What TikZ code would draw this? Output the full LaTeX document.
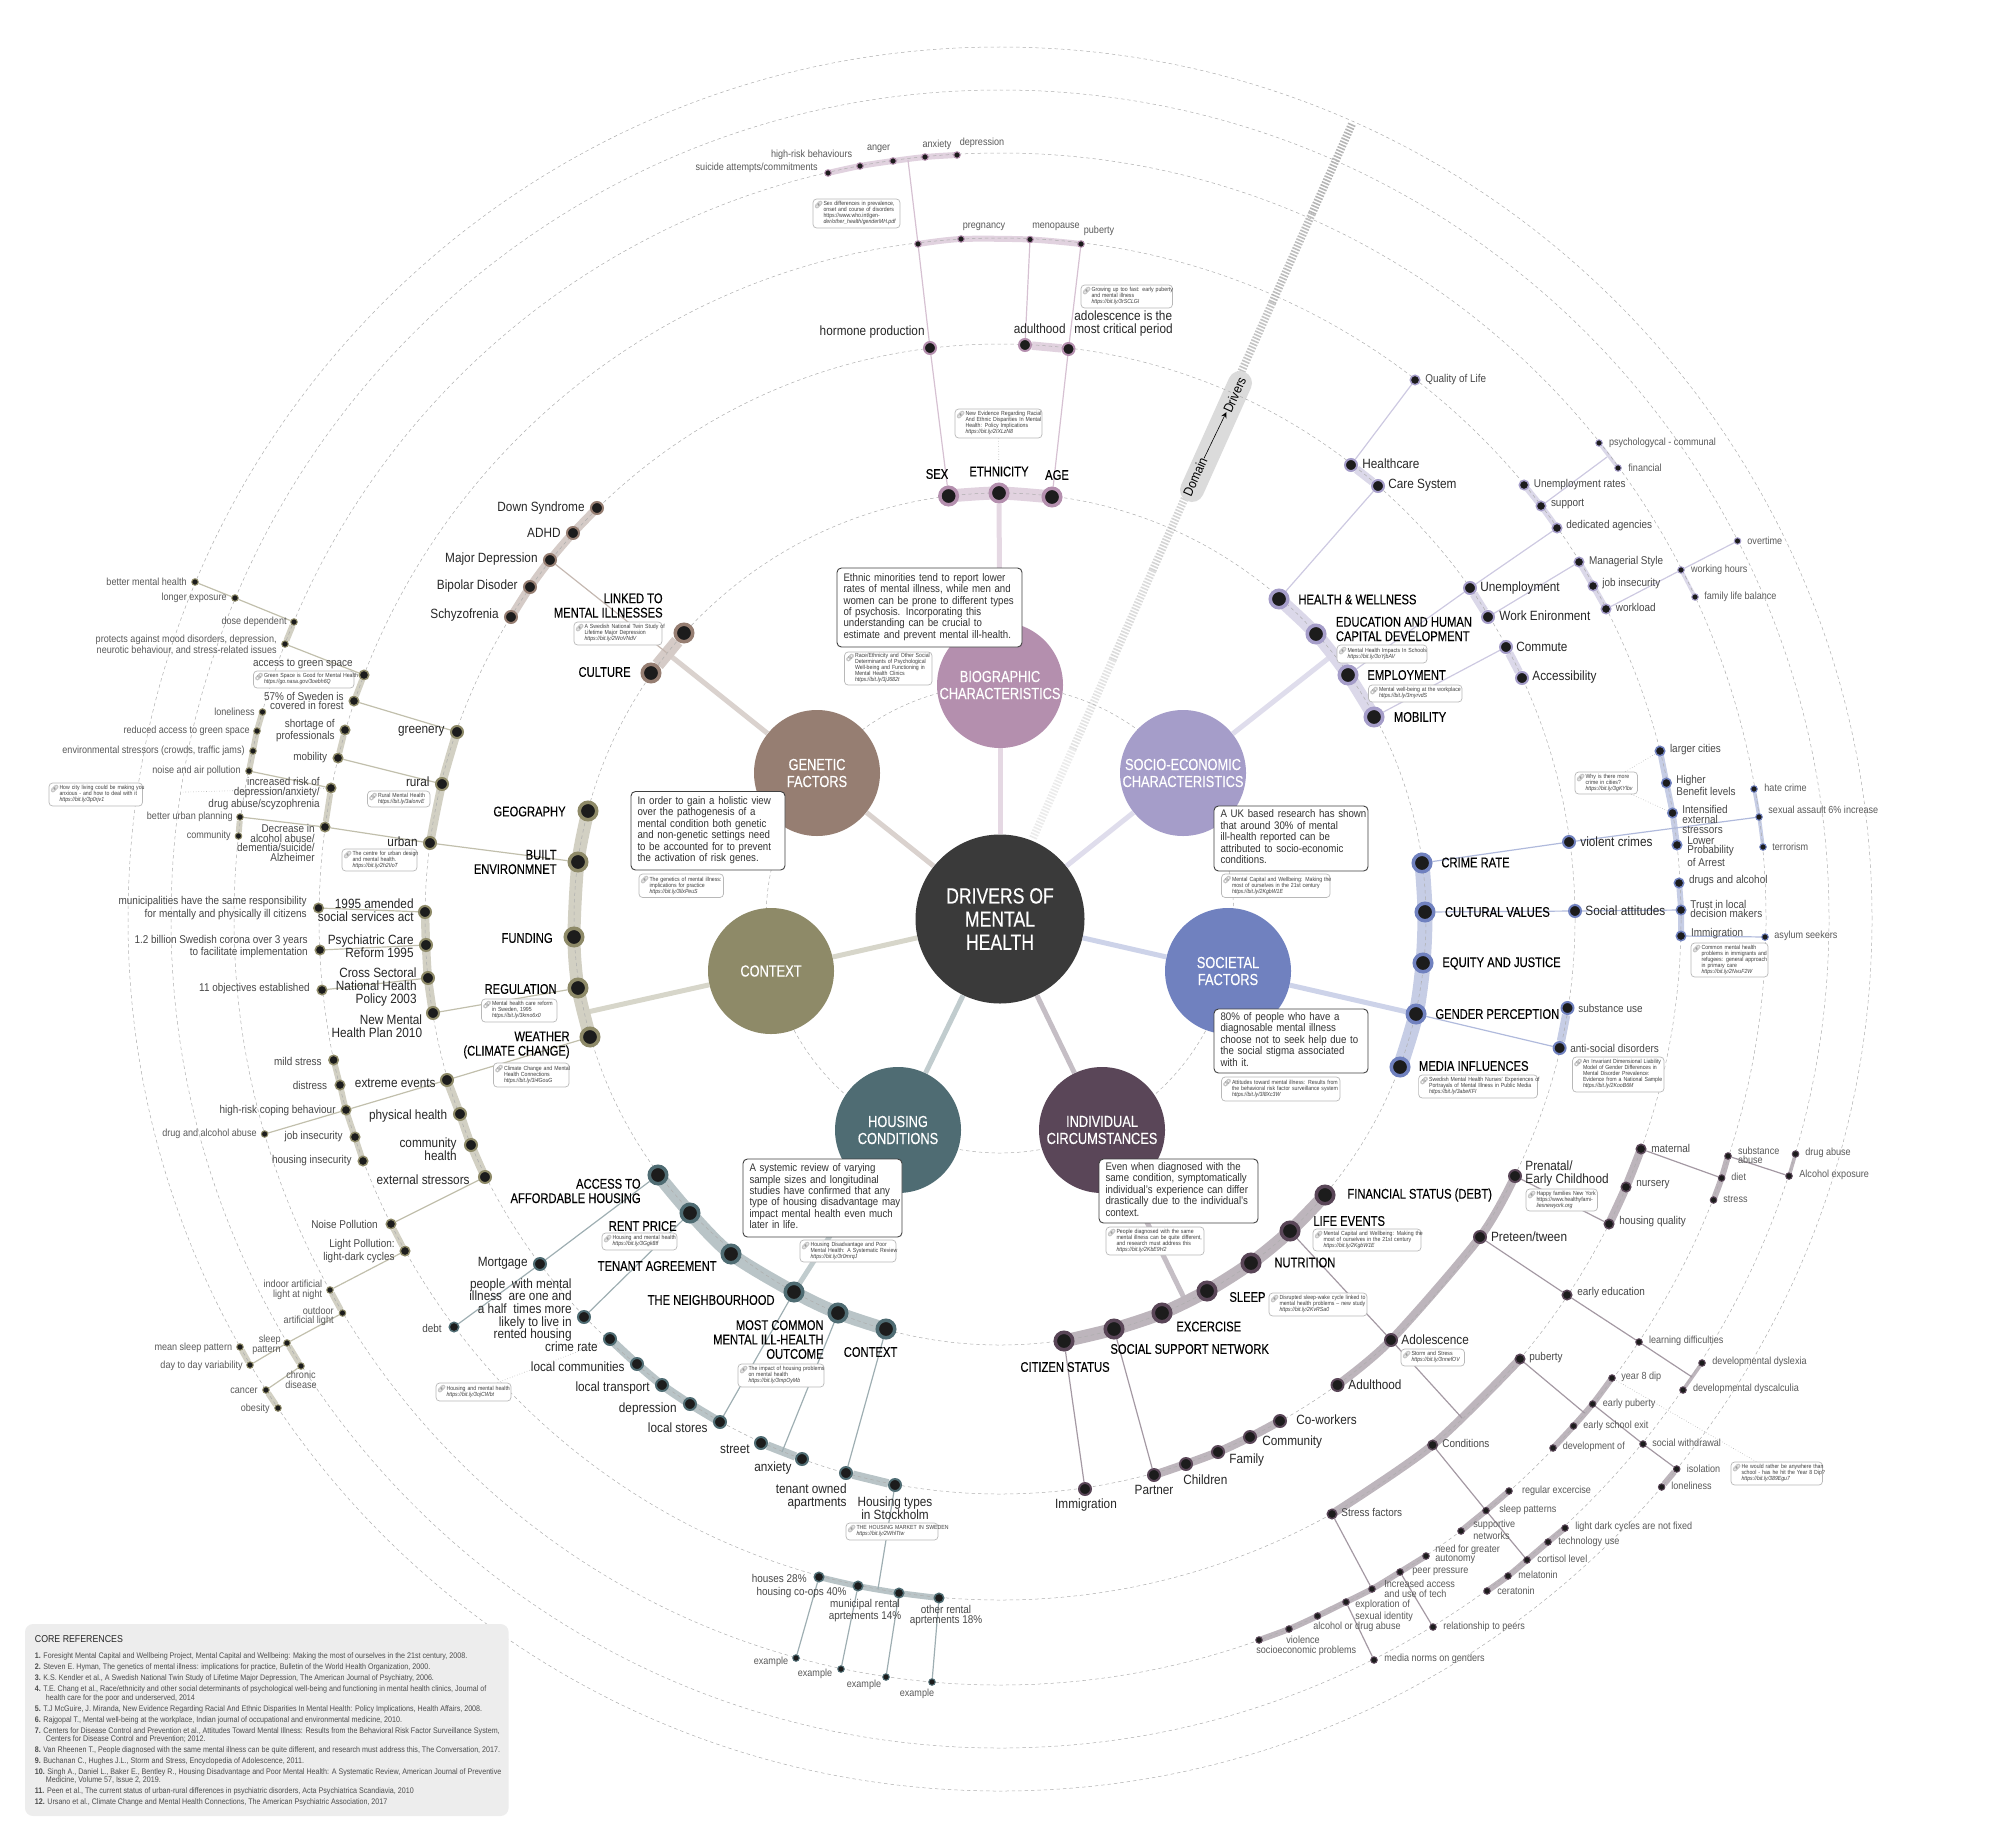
\documentclass[tikz,border=0pt]{standalone}
\usepackage{fontspec}
\usetikzlibrary{calc}
\setmainfont[FakeStretch=0.88]{Liberation Sans}
\newfontfamily\capsfont[FakeStretch=0.8,FakeBold=0.25]{Liberation Sans}
\newfontfamily\emojifont{Noto Emoji}
\pgfdeclarelayer{background}
\pgfsetlayers{background,main}

\definecolor{ink}{HTML}{1C1C1C}
\definecolor{chub}{HTML}{3A3A3A}
\definecolor{cbio}{HTML}{B48FAE}
\definecolor{cgen}{HTML}{967E72}
\definecolor{csoc}{HTML}{A59DC9}
\definecolor{ccon}{HTML}{8E8A68}
\definecolor{cfac}{HTML}{7081BF}
\definecolor{chou}{HTML}{4F6C73}
\definecolor{cind}{HTML}{5A4658}

\tikzset{
  dota/.style={circle,inner sep=0pt,minimum size=8.75pt,fill=ink,draw=#1,line width=1.75pt},
  dotb/.style={circle,inner sep=0pt,minimum size=6pt,fill=ink,draw=#1,line width=1pt},
  dotc/.style={circle,inner sep=0pt,minimum size=4.75pt,fill=ink,draw=#1,line width=0.75pt},
  dotd/.style={circle,inner sep=0pt,minimum size=3.25pt,fill=ink,draw=#1,line width=0.5pt},
  factor/.style={circle,inner sep=0pt,minimum size=63pt,fill=#1,text=white,align=center,
    font=\capsfont\fontsize{8}{8.5}\selectfont},
  txta/.style={inner sep=0pt,text=black,font=\capsfont\fontsize{7}{7.2}\selectfont},
  txtb/.style={inner sep=0pt,text=black!85,font=\fontsize{6.7}{6.3}\selectfont},
  txtc/.style={inner sep=0pt,text=black!72,font=\fontsize{5.65}{4.8}\selectfont},
  txtd/.style={inner sep=0pt,text=black!65,font=\fontsize{5.15}{4.8}\selectfont},
  lft/.style={anchor=east,align=right},
  rgt/.style={anchor=west,align=left},
  mid/.style={anchor=center,align=center},
  spoke/.style={line width=2.5pt,draw=#1!35},
  banda/.style={line width=6.5pt,draw=#1!40},
  bandb/.style={line width=4.2pt,draw=#1!40},
  bandc/.style={line width=3pt,draw=#1!40},
  bandd/.style={line width=1.8pt,draw=#1!40},
  conn/.style={line width=0.6pt,draw=#1!55},
  ringline/.style={draw=black!32,line width=0.25pt,dash pattern=on 1.7pt off 1.5pt},
  notelink/.style={draw=black!30,line width=0.3pt,densely dotted},
  notebox/.style={fill=white,draw=black!75,line width=0.45pt,rounded corners=2.2pt,inner sep=0pt,
    align=left,text=black!80,font=\fontsize{5.5}{5.7}\selectfont},
  refbox/.style={fill=white,draw=black!28,line width=0.35pt,rounded corners=1.8pt,inner sep=0pt,
    align=left,text=black!75,font=\fontsize{2.95}{2.85}\selectfont},
  clipicon/.style={inner sep=0pt,text=black!60,font=\emojifont\fontsize{3.6}{3.6}\selectfont},
}

% boxes are given by their corners, in pixels of the picture
\newcommand{\refnote}[7]{%
  \node[refbox,minimum width={(#4-#2)*0.5pt},minimum height={(#5-#3)*0.5pt},text width={(#4-#2-1)*0.5pt}]
    (#1) at ({(#2+#4)/2},{(#3+#5)/2})
    {\hspace*{5pt}\begin{tabular}{@{}l@{}}#6\\\itshape #7\end{tabular}};
  \node[clipicon] (#1-i) at ([xshift=3pt,yshift=-3.2pt]#1.north west) {\symbol{"1F517}};
}
\newcommand{\textnote}[6]{%
  \node[notebox,minimum width={(#4-#2)*0.5pt},minimum height={(#5-#3)*0.5pt},text width={(#4-#2-1)*0.5pt}]
    (#1) at ({(#2+#4)/2},{(#3+#5)/2})
    {\hspace*{3pt}\begin{tabular}{@{}l@{}}#6\end{tabular}};
}

\begin{document}
\begin{tikzpicture}[x=0.5pt,y=-0.5pt]
\useasboundingbox (0,0) rectangle (2000,1841);

% centre and the seven domains
\node[circle,inner sep=0pt,minimum size=84.5pt,fill=chub,text=white,align=center,
  font=\capsfont\fontsize{11}{11.6}\selectfont] (hub) at (1000,919) {DRIVERS OF\\MENTAL\\HEALTH};
\node[factor=cbio] (bio) at (1000,685) {BIOGRAPHIC\\CHARACTERISTICS};
\node[factor=cgen] (gen) at (817,773) {GENETIC\\FACTORS};
\node[factor=csoc] (soc) at (1183,773) {SOCIO-ECONOMIC\\CHARACTERISTICS};
\node[factor=ccon] (con) at (771,971) {CONTEXT};
\node[factor=cfac] (fac) at (1228,971) {SOCIETAL\\FACTORS};
\node[factor=chou] (hou) at (898,1130) {HOUSING\\CONDITIONS};
\node[factor=cind] (ind) at (1102,1130) {INDIVIDUAL\\CIRCUMSTANCES};

% join points on the bands
\coordinate (genjoin) at (667,653);
\coordinate (socjoin) at (1330,657);
\coordinate (conjoin) at (583,1013);
\coordinate (indjoin) at (1185,1300);
\coordinate (btopjoin) at (908,160);
\coordinate (hstreetjoin) at (782,1452);
\coordinate (hringjoin) at (878,1589);
\coordinate (spsyjoin) at (1607,457);
\coordinate (idysjoin) at (1692,1377);
\coordinate (icondjoin) at (1462,1418);
\coordinate (ipubjoin) at (1584.5,1413);

% biographic
\node[dota=cbio] (bsex) at (948.6,496) {}; \node[txta,mid] (bsex-t) at (937,474) {SEX};
\node[dota=cbio] (beth) at (999,493) {}; \node[txta,mid] (beth-t) at (999,471.5) {ETHNICITY};
\node[dota=cbio] (bage) at (1052,497) {}; \node[txta,mid] (bage-t) at (1057,475) {AGE};
\node[dotb=cbio] (bhor) at (930,348) {}; \node[txtb,lft] (bhor-t) at (925,332) {hormone production};
\node[dotb=cbio] (badu) at (1025,345) {}; \node[txtb,lft] (badu-t) at (1066,329) {adulthood};
\node[dotb=cbio] (bado) at (1068.5,349) {}; \node[txtb,rgt] (bado-t) at (1074,323.5) {adolescence is the\\most critical period};
\node[dotd=cbio] (bri1) at (918,244) {};
\node[dotd=cbio] (bpre) at (961,239) {}; \node[txtd,mid] (bpre-t) at (984,227) {pregnancy};
\node[dotd=cbio] (bmen) at (1030,239.5) {}; \node[txtd,mid] (bmen-t) at (1056,227) {menopause};
\node[dotd=cbio] (bpub) at (1081,244) {}; \node[txtd,mid] (bpub-t) at (1099,231) {puberty};
\node[dotd=cbio] (bsui) at (828,173) {}; \node[txtd,lft] (bsui-t) at (818,168) {suicide attempts/commitments};
\node[dotd=cbio] (brisk) at (860,166) {}; \node[txtd,lft] (brisk-t) at (852.5,155) {high-risk behaviours};
\node[dotd=cbio] (bang) at (893,161) {}; \node[txtd,mid] (bang-t) at (878.6,149) {anger};
\node[dotd=cbio] (banx) at (925,157) {}; \node[txtd,mid] (banx-t) at (937,145) {anxiety};
\node[dotd=cbio] (bdep) at (957,155) {}; \node[txtd,mid] (bdep-t) at (982,143) {depression};
\refnote{bnote1}{813}{199}{900}{228}{Sex differences in prevalence,\\onset and course of disorders\\https://www.who.int/gen-}{der/other\_health/genderMH.pdf}
\refnote{bnote2}{1081}{285}{1172.5}{308}{Growing up too fast: early puberty\\and mental illness}{https://bit.ly/3rSCLGI}
\refnote{bnote3}{955}{409}{1042}{438}{New Evidence Regarding Racial\\And Ethnic Disparities In Mental\\Health: Policy Implications}{https://bit.ly/2IXLzN8}
\textnote{bcall}{837}{568}{1022}{647}{Ethnic minorities tend to report lower\\rates of mental illness, while men and\\women can be prone to different types\\of psychosis. Incorporating this\\understanding can be crucial to\\estimate and prevent mental ill-health.}
\refnote{bnote4}{844.5}{652}{932}{685}{Race/Ethnicity and Other Social\\Determinants of Psychological\\Well-being and Functioning in\\Mental Health Clinics}{https://bit.ly/3jJ682t}

% genetic
\node[dotb=cgen] (gdow) at (597,508) {}; \node[txtb,lft] (gdow-t) at (585,508) {Down Syndrome};
\node[dotb=cgen] (gadh) at (573,533) {}; \node[txtb,lft] (gadh-t) at (561,533) {ADHD};
\node[dotb=cgen] (gmaj) at (550,560) {}; \node[txtb,lft] (gmaj-t) at (538,559) {Major Depression};
\node[dotb=cgen] (gbip) at (530,587) {}; \node[txtb,lft] (gbip-t) at (518,586) {Bipolar Disoder};
\node[dotb=cgen] (gsch) at (511,617) {}; \node[txtb,lft] (gsch-t) at (499,615) {Schyzofrenia};
\node[dota=cgen] (glin) at (684,633) {}; \node[txta,lft] (glin-t) at (663,605.5) {LINKED TO\\MENTAL ILLNESSES};
\node[dota=cgen] (gcul) at (651,673) {}; \node[txta,lft] (gcul-t) at (631,672) {CULTURE};
\refnote{gnote1}{574}{622}{662}{645}{A Swedish National Twin Study of\\Lifetime Major Depression}{https://bit.ly/2WoVNdV}
\textnote{gcall}{631}{791.5}{785}{870}{In order to gain a holistic view\\over the pathogenesis of a\\mental condition both genetic\\and non-genetic settings need\\to be accounted for to prevent\\the activation of risk genes.}
\refnote{gnote2}{639}{874}{723.5}{897.5}{The genetics of mental illness:\\implications for practice}{https://bit.ly/3llxPeuS}

% socio-economic
\node[dota=csoc] (shea) at (1279,599) {}; \node[txta,rgt] (shea-t) at (1298,599.5) {HEALTH \& WELLNESS};
\node[dota=csoc] (sedu) at (1316,634) {}; \node[txta,rgt] (sedu-t) at (1335.5,629) {EDUCATION AND HUMAN\\CAPITAL DEVELOPMENT};
\node[dota=csoc] (semp) at (1348,675) {}; \node[txta,rgt] (semp-t) at (1367,675) {EMPLOYMENT};
\node[dota=csoc] (smob) at (1374,717) {}; \node[txta,rgt] (smob-t) at (1393.5,717) {MOBILITY};
\refnote{snote1}{1337}{645}{1427}{663}{Mental Health Impacts In Schools}{https://bit.ly/3oYjbAV}
\refnote{snote2}{1368.5}{685}{1462}{702}{Mental well-being at the workplace}{https://bit.ly/3myrvdS}
\node[dotb=csoc] (scar) at (1351,465) {}; \node[txtb,rgt] (scar-t) at (1362,464) {Healthcare};
\node[dotb=csoc] (ssys) at (1378,486) {}; \node[txtb,rgt] (ssys-t) at (1388,485.5) {Care System};
\node[dotc=csoc] (squa) at (1415,380) {}; \node[txtc,rgt] (squa-t) at (1425,380) {Quality of Life};
\node[dotb=csoc] (suem) at (1470,588) {}; \node[txtb,rgt] (suem-t) at (1480,588) {Unemployment};
\node[dotb=csoc] (swrk) at (1488,617) {}; \node[txtb,rgt] (swrk-t) at (1499,616) {Work Enironment};
\node[dotb=csoc] (scom) at (1506,647) {}; \node[txtb,rgt] (scom-t) at (1516,646.5) {Commute};
\node[dotb=csoc] (sacc) at (1522,678) {}; \node[txtb,rgt] (sacc-t) at (1532,677.5) {Accessibility};
\node[dotc=csoc] (sura) at (1524,485) {}; \node[txtc,rgt] (sura-t) at (1533.5,485) {Unemployment rates};
\node[dotc=csoc] (ssup) at (1541,506) {}; \node[txtc,rgt] (ssup-t) at (1550.6,504) {support};
\node[dotc=csoc] (sded) at (1557,528) {}; \node[txtc,rgt] (sded-t) at (1566,526) {dedicated agencies};
\node[dotc=csoc] (sman) at (1579,562) {}; \node[txtc,rgt] (sman-t) at (1588.6,562) {Managerial Style};
\node[dotc=csoc] (sjob) at (1593,586) {}; \node[txtc,rgt] (sjob-t) at (1602,584) {job insecurity};
\node[dotc=csoc] (swlo) at (1606,609) {}; \node[txtc,rgt] (swlo-t) at (1615.5,607.5) {workload};
\node[dotd=csoc] (spsy) at (1599,443) {}; \node[txtd,rgt] (spsy-t) at (1608.6,443) {psychologycal - communal};
\node[dotd=csoc] (sfin) at (1618,468) {}; \node[txtd,rgt] (sfin-t) at (1628,468) {financial};
\node[dotd=csoc] (shou) at (1681,570) {}; \node[txtd,rgt] (shou-t) at (1690.6,570) {working hours};
\node[dotd=csoc] (sfam) at (1695,597) {}; \node[txtd,rgt] (sfam-t) at (1704,597) {family life balance};
\node[dotd=csoc] (sove) at (1737.5,541) {}; \node[txtd,rgt] (sove-t) at (1747,541) {overtime};
\textnote{scall}{1214}{806}{1368}{871}{A UK based research has shown\\that around 30\% of mental\\ill-health reported can be\\attributed to socio-economic\\conditions.}
\refnote{snote3}{1221.5}{874}{1330}{897.5}{Mental Capital and Wellbeing: Making the\\most of ourselves in the 21st century}{https://bit.ly/2KgbW1E}

% societal factors
\node[dota=cfac] (rcri) at (1422,863) {}; \node[txta,rgt] (rcri-t) at (1441,862.5) {CRIME RATE};
\node[dota=cfac] (rcul) at (1425,912) {}; \node[txta,rgt] (rcul-t) at (1444.6,912) {CULTURAL VALUES};
\node[dota=cfac] (requ) at (1423,963) {}; \node[txta,rgt] (requ-t) at (1442,963.5) {EQUITY AND JUSTICE};
\node[dota=cfac] (rgen) at (1416,1014) {}; \node[txta,rgt] (rgen-t) at (1435,1014) {GENDER PERCEPTION};
\node[dota=cfac] (rmed) at (1400,1067) {}; \node[txta,rgt] (rmed-t) at (1418.6,1066) {MEDIA INFLUENCES};
\refnote{rnote1}{1418.6}{1075}{1537.5}{1098}{Swedish Mental Health Nurses' Experiences of\\Portrayals of Mental Illness in Public Media}{https://bit.ly/3abeKFI}
\node[dotb=cfac] (rvio) at (1569,842) {}; \node[txtb,rgt] (rvio-t) at (1580,842) {violent crimes};
\node[dotb=cfac] (rsoc) at (1575,911) {}; \node[txtb,rgt] (rsoc-t) at (1585,910.5) {Social attitudes};
\node[dotb=cfac] (rsub) at (1567.5,1008) {}; \node[txtc,rgt] (rsub-t) at (1578,1008) {substance use};
\node[dotb=cfac] (rant) at (1559.6,1048) {}; \node[txtc,rgt] (rant-t) at (1570,1048) {anti-social disorders};
\refnote{rnote2}{1572.5}{1057}{1664}{1092}{An Invariant Dimensional Liability\\Model of Gender Differences in\\Mental Disorder Prevalence:\\Evidence from a National Sample}{https://bit.ly/2KooB6M}
\node[dotc=cfac] (rlar) at (1660,751) {}; \node[txtc,rgt] (rlar-t) at (1669.6,749.5) {larger cities};
\node[dotc=cfac] (rhig) at (1666.4,783) {}; \node[txtc,rgt] (rhig-t) at (1676,785.5) {Higher\\Benefit levels};
\node[dotc=cfac] (rint) at (1672.5,813) {}; \node[txtc,rgt] (rint-t) at (1682,819.5) {Intensified\\external\\stressors};
\node[dotc=cfac] (rlow) at (1677,845) {}; \node[txtc,rgt] (rlow-t) at (1687,851.5) {Lower\\Probability\\of Arrest};
\node[dotc=cfac] (rdru) at (1679,883) {}; \node[txtc,rgt] (rdru-t) at (1688.6,881) {drugs and alcohol};
\node[dotc=cfac] (rtru) at (1681,910) {}; \node[txtc,rgt] (rtru-t) at (1690,909) {Trust in local\\decision makers};
\node[dotc=cfac] (rimm) at (1681,936) {}; \node[txtc,rgt] (rimm-t) at (1690.7,934) {Immigration};
\node[dotd=cfac] (rasy) at (1765,937) {}; \node[txtd,rgt] (rasy-t) at (1774,936) {asylum seekers};
\node[dotd=cfac] (rhat) at (1754,789) {}; \node[txtd,rgt] (rhat-t) at (1764,788) {hate crime};
\node[dotd=cfac] (rsex) at (1759,817) {}; \node[txtd,rgt] (rsex-t) at (1768,810) {sexual assault 6\% increase};
\node[dotd=cfac] (rter) at (1763,847) {}; \node[txtd,rgt] (rter-t) at (1772,847) {terrorism};
\refnote{rnote3}{1575}{772}{1637.5}{794}{Why is there more\\crime in cities?}{https://bit.ly/3gKYlbv}
\refnote{rnote4}{1691}{943}{1768}{977}{Common mental health\\problems in immigrants and\\refugees: general approach\\in primary care}{https://bit.ly/2NvuF2W}
\textnote{rcall}{1214}{1009}{1368}{1073}{80\% of people who have a\\diagnosable mental illness\\choose not to seek help due to\\the social stigma associated\\with it.}
\refnote{rnote5}{1221.5}{1077}{1340}{1101}{Attitudes toward mental illness: Results from\\the behavioral risk factor surveillance system}{https://bit.ly/3l8Xc3W}

% individual circumstances
\node[dota=cind] (ifin) at (1325,1195) {}; \node[txta,rgt] (ifin-t) at (1347,1195) {FINANCIAL STATUS (DEBT)};
\node[dota=cind] (ilif) at (1290,1231) {}; \node[txta,rgt] (ilif-t) at (1313,1221) {LIFE EVENTS};
\node[dota=cind] (inut) at (1251,1263) {}; \node[txta,rgt] (inut-t) at (1274,1262.5) {NUTRITION};
\node[dota=cind] (isle) at (1207,1291) {}; \node[txta,rgt] (isle-t) at (1229,1297) {SLEEP};
\node[dota=cind] (iexc) at (1162,1313) {}; \node[txta,rgt] (iexc-t) at (1176,1326.5) {EXCERCISE};
\node[dota=cind] (isoc) at (1114,1329) {}; \node[txta,rgt] (isoc-t) at (1110,1349) {SOCIAL SUPPORT NETWORK};
\node[dota=cind] (icit) at (1064,1341) {}; \node[txta,mid] (icit-t) at (1065,1367) {CITIZEN STATUS};
\textnote{icall}{1099}{1159}{1258}{1223}{Even when diagnosed with the\\same condition, symptomatically\\individual's experience can differ\\drastically due to the individual's\\context.}
\refnote{inote1}{1106}{1227}{1204}{1255}{People diagnosed with the same\\mental illness can be quite different,\\and research must address this}{https://bit.ly/2KbE9H2}
\refnote{inote2}{1313}{1229}{1421}{1251}{Mental Capital and Wellbeing: Making the\\most of ourselves in the 21st century}{https://bit.ly/2KgbW1E}
\refnote{inote3}{1269}{1293}{1367}{1316}{Disrupted sleep-wake cycle linked to\\mental health problems -- new study}{https://bit.ly/2KvRSa0}
\node[dotb=cind] (ipre) at (1515,1176) {}; \node[txtb,rgt] (ipre-t) at (1525,1173.5) {Prenatal/\\Early Childhood};
\node[dotb=cind] (itwe) at (1480,1237) {}; \node[txtb,rgt] (itwe-t) at (1490.6,1236.5) {Preteen/tween};
\node[dotb=cind] (iado) at (1391,1340) {}; \node[txtb,rgt] (iado-t) at (1401,1339.5) {Adolescence};
\node[dotb=cind] (iadu) at (1337.5,1385) {}; \node[txtb,rgt] (iadu-t) at (1348,1384.5) {Adulthood};
\refnote{inote4}{1526}{1189}{1597.5}{1211}{Happy families New York\\https://www.healthyfami-}{liesnewyork.org}
\refnote{inote5}{1401}{1349}{1464.5}{1366}{Storm and Stress}{https://bit.ly/3nnefOV}
\node[dotb=cind] (icow) at (1280,1421) {}; \node[txtb,rgt] (icow-t) at (1296,1420) {Co-workers};
\node[dotb=cind] (icmu) at (1250,1437) {}; \node[txtb,rgt] (icmu-t) at (1262,1442) {Community};
\node[dotb=cind] (ifam) at (1218,1452) {}; \node[txtb,rgt] (ifam-t) at (1229,1460) {Family};
\node[dotb=cind] (ichi) at (1186,1464) {}; \node[txtb,rgt] (ichi-t) at (1183,1480) {Children};
\node[dotb=cind] (ipar) at (1154,1475) {}; \node[txtb,mid] (ipar-t) at (1154,1490) {Partner};
\node[dotb=cind] (iimm) at (1085,1489) {}; \node[txtb,mid] (iimm-t) at (1086,1505) {Immigration};
\node[dotc=cind] (imat) at (1641,1149) {}; \node[txtc,rgt] (imat-t) at (1651,1148) {maternal};
\node[dotc=cind] (inur) at (1626,1187) {}; \node[txtc,rgt] (inur-t) at (1636,1185) {nursery};
\node[dotc=cind] (ihqu) at (1609,1224) {}; \node[txtc,rgt] (ihqu-t) at (1619,1222) {housing quality};
\node[dotd=cind] (isab) at (1728,1156) {}; \node[txtd,rgt] (isab-t) at (1737.6,1155.5) {substance\\abuse};
\node[dotd=cind] (idie) at (1721.6,1178) {}; \node[txtd,rgt] (idie-t) at (1731,1177) {diet};
\node[dotd=cind] (istr) at (1713.5,1200) {}; \node[txtd,rgt] (istr-t) at (1723,1199) {stress};
\node[dotd=cind] (idru) at (1795.5,1154) {}; \node[txtd,rgt] (idru-t) at (1805,1153) {drug abuse};
\node[dotd=cind] (ialc) at (1789,1176) {}; \node[txtd,rgt] (ialc-t) at (1799,1175) {Alcohol exposure};
\node[dotc=cind] (ieed) at (1567,1295) {}; \node[txtc,rgt] (ieed-t) at (1577,1293) {early education};
\node[dotd=cind] (ilea) at (1639,1342) {}; \node[txtd,rgt] (ilea-t) at (1648.6,1341) {learning difficulties};
\node[dotd=cind] (idys) at (1702,1363) {}; \node[txtd,rgt] (idys-t) at (1712,1362) {developmental dyslexia};
\node[dotd=cind] (idyc) at (1683,1390) {}; \node[txtd,rgt] (idyc-t) at (1692.6,1389) {developmental dyscalculia};
\node[dotc=cind] (ipbt) at (1520,1359) {}; \node[txtc,rgt] (ipbt-t) at (1529,1358) {puberty};
\node[dotc=cind] (icon) at (1432.6,1445) {}; \node[txtc,rgt] (icon-t) at (1442,1443) {Conditions};
\node[dotc=cind] (isfa) at (1332,1514) {}; \node[txtc,rgt] (isfa-t) at (1341,1512) {Stress factors};
\node[dotd=cind] (iyea) at (1612,1378) {}; \node[txtd,rgt] (iyea-t) at (1621,1377) {year 8 dip};
\node[dotd=cind] (iepu) at (1592.6,1404) {}; \node[txtd,rgt] (iepu-t) at (1602.5,1404) {early puberty};
\node[dotd=cind] (iesc) at (1573.5,1426) {}; \node[txtd,rgt] (iesc-t) at (1583,1425.6) {early school exit};
\node[dotd=cind] (idev) at (1553,1448) {}; \node[txtd,rgt] (idev-t) at (1562.4,1447) {development of};
\node[dotd=cind] (iswi) at (1643,1444) {}; \node[txtd,rgt] (iswi-t) at (1652,1443) {social withdrawal};
\node[dotd=cind] (iiso) at (1676.7,1469) {}; \node[txtd,rgt] (iiso-t) at (1686.5,1469) {isolation};
\node[dotd=cind] (ilon) at (1661.6,1487) {}; \node[txtd,rgt] (ilon-t) at (1671,1486) {loneliness};
\refnote{inote6}{1731}{1462}{1822.5}{1485}{He would rather be anywhere than\\school - has he hit the Year 8 Dip?}{https://bit.ly/389Egu7}
\node[dotd=cind] (ireg) at (1509,1491) {}; \node[txtd,rgt] (ireg-t) at (1521.6,1491) {regular excercise};
\node[dotd=cind] (islp) at (1486,1510.6) {}; \node[txtd,rgt] (islp-t) at (1499,1510) {sleep patterns};
\node[dotd=cind] (isun) at (1461,1531) {}; \node[txtd,rgt] (isun-t) at (1473,1530) {supportive\\networks};
\node[dotd=cind] (ilig) at (1565,1528) {}; \node[txtd,rgt] (ilig-t) at (1575,1527) {light dark cycles are not fixed};
\node[dotd=cind] (itec) at (1548,1542) {}; \node[txtd,rgt] (itec-t) at (1558,1542) {technology use};
\node[dotd=cind] (icor) at (1527,1560) {}; \node[txtd,rgt] (icor-t) at (1537,1559) {cortisol level};
\node[dotd=cind] (imel) at (1508,1576) {}; \node[txtd,rgt] (imel-t) at (1518,1575) {melatonin};
\node[dotd=cind] (icer) at (1487,1591) {}; \node[txtd,rgt] (icer-t) at (1497,1591) {ceratonin};
\node[dotd=cind] (inee) at (1426,1556) {}; \node[txtd,rgt] (inee-t) at (1435,1554.5) {need for greater\\autonomy};
\node[dotd=cind] (ipee) at (1400,1572) {}; \node[txtd,rgt] (ipee-t) at (1412,1572) {peer pressure};
\node[dotd=cind] (iinc) at (1372,1589) {}; \node[txtd,rgt] (iinc-t) at (1384,1588.5) {Increased access\\and use of tech};
\node[dotd=cind] (iexp) at (1346,1602) {}; \node[txtd,rgt] (iexp-t) at (1355,1611) {exploration of\\sexual identity};
\node[dotd=cind] (iabu) at (1317.5,1616) {}; \node[txtd,rgt] (iabu-t) at (1313,1627) {alcohol or drug abuse};
\node[dotd=cind] (ivio) at (1289,1629) {}; \node[txtd,rgt] (ivio-t) at (1286,1640) {violence};
\node[dotd=cind] (isep) at (1259,1640) {}; \node[txtd,rgt] (isep-t) at (1256,1651) {socioeconomic problems};
\node[dotd=cind] (irel) at (1433,1627) {}; \node[txtd,rgt] (irel-t) at (1443,1626.5) {relationship to peers};
\node[dotd=cind] (imed) at (1374,1660) {}; \node[txtd,rgt] (imed-t) at (1384,1659) {media norms on genders};

% housing conditions
\node[dota=chou] (hacc) at (658,1175) {}; \node[txta,lft] (hacc-t) at (641,1191) {ACCESS TO\\AFFORDABLE HOUSING};
\node[dota=chou] (hren) at (690,1213) {}; \node[txta,lft] (hren-t) at (677,1226) {RENT PRICE};
\node[dota=chou] (hten) at (731,1254) {}; \node[txta,lft] (hten-t) at (717,1266) {TENANT AGREEMENT};
\node[dota=chou] (hnei) at (794,1292) {}; \node[txta,lft] (hnei-t) at (775,1300) {THE NEIGHBOURHOOD};
\node[dota=chou] (hmos) at (838,1313) {}; \node[txta,lft] (hmos-t) at (824,1339.5) {MOST COMMON\\MENTAL ILL-HEALTH\\OUTCOME};
\node[dota=chou] (hcon) at (886,1329) {}; \node[txta,mid] (hcon-t) at (870.5,1352) {CONTEXT};
\textnote{hcall}{743}{1159}{902}{1237}{A systemic review of varying\\sample sizes and longitudinal\\studies have confirmed that any\\type of housing disadvantage may\\impact mental health even much\\later in life.}
\refnote{hnote1}{800}{1240}{896}{1262}{Housing Disadvantage and Poor\\Mental Health: A Systematic Review}{https://bit.ly/3r0mrqJ}
\refnote{hnote2}{602}{1233}{677}{1250}{Housing and mental health}{https://bit.ly/3Ggk8tf}
\refnote{hnote3}{738}{1364}{824}{1387}{The impact of housing problems\\on mental health}{https://bit.ly/3mpOyMb}
\refnote{hnote4}{846}{1523}{938}{1540}{THE HOUSING MARKET IN SWEDEN}{https://bit.ly/2WhlTtw}
\refnote{hnote5}{436}{1383}{511}{1401}{Housing and mental health}{https://bit.ly/3ojCWbt}
\node[dotb=chou] (hmor) at (540,1264) {}; \node[txtb,lft] (hmor-t) at (528,1263) {Mortgage};
\node[dotc=chou] (hdeb) at (454,1327) {}; \node[txtc,lft] (hdeb-t) at (442,1328) {debt};
\node[dotb=chou] (hpeo) at (584,1317) {}; \node[txtb,lft] (hpeo-t) at (572,1310) {people\ \ with mental\\illness\ \ are one and\\a half\ \ times more\\likely to live in\\rented housing};
\node[dotb=chou] (hcri) at (610,1339) {}; \node[txtb,lft] (hcri-t) at (598,1347) {crime rate};
\node[dotb=chou] (hcom) at (637,1364) {}; \node[txtb,lft] (hcom-t) at (625,1367) {local communities};
\node[dotb=chou] (htra) at (662,1385) {}; \node[txtb,lft] (htra-t) at (650,1388) {local transport};
\node[dotb=chou] (hdep) at (690,1404) {}; \node[txtb,lft] (hdep-t) at (677,1409) {depression};
\node[dotb=chou] (hsto) at (720,1422) {}; \node[txtb,lft] (hsto-t) at (708,1428) {local stores};
\node[dotb=chou] (hstr) at (761,1443) {}; \node[txtb,lft] (hstr-t) at (750,1449.5) {street};
\node[dotb=chou] (hanx) at (802,1459) {}; \node[txtb,lft] (hanx-t) at (792,1468) {anxiety};
\node[dotb=chou] (hown) at (846,1473) {}; \node[txtb,lft] (hown-t) at (847,1496.5) {tenant owned\\apartments};
\node[dotb=chou] (htyp) at (895,1485) {}; \node[txtb,mid] (htyp-t) at (895,1508) {Housing types\\in Stockholm};
\node[dotc=chou] (hhou) at (819,1577) {}; \node[txtc,lft] (hhou-t) at (807,1578) {houses 28\%};
\node[dotc=chou] (hcoo) at (858,1586) {}; \node[txtc,lft] (hcoo-t) at (847,1593) {housing co-ops 40\%};
\node[dotc=chou] (hmun) at (899,1593) {}; \node[txtc,mid] (hmun-t) at (865,1610.5) {municipal rental\\aprtements 14\%};
\node[dotc=chou] (hoth) at (939,1598) {}; \node[txtc,mid] (hoth-t) at (946,1615.5) {other rental\\aprtements 18\%};
\node[dotd=chou] (hex1) at (796,1658) {}; \node[txtd,mid] (hex1-t) at (771,1662) {example};
\node[dotd=chou] (hex2) at (841,1669) {}; \node[txtd,mid] (hex2-t) at (815,1674) {example};
\node[dotd=chou] (hex3) at (886,1677) {}; \node[txtd,mid] (hex3-t) at (864,1685) {example};
\node[dotd=chou] (hex4) at (932,1682) {}; \node[txtd,mid] (hex4-t) at (917,1694) {example};

% context
\node[dota=ccon] (cgeo) at (588,811) {}; \node[txta,lft] (cgeo-t) at (566,811.5) {GEOGRAPHY};
\node[dota=ccon] (cbui) at (578,862) {}; \node[txta,lft] (cbui-t) at (557,862) {BUILT\\ENVIRONMNET};
\node[dota=ccon] (cfun) at (574,937) {}; \node[txta,lft] (cfun-t) at (553,938) {FUNDING};
\node[dota=ccon] (creg) at (578,988) {}; \node[txta,lft] (creg-t) at (557,989) {REGULATION};
\node[dota=ccon] (cwea) at (590,1037) {}; \node[txta,lft] (cwea-t) at (570,1045) {WEATHER\\(CLIMATE CHANGE)};
\refnote{cnote1}{481.5}{999}{557}{1022}{Mental health care reform\\in Sweden, 1995}{https://bit.ly/3kmo6x0}
\refnote{cnote2}{493.5}{1063}{569}{1087}{Climate Change and Mental\\Health Connections}{https://bit.ly/3i4GouG}
\node[dotb=ccon] (cgre) at (457,732) {}; \node[txtb,lft] (cgre-t) at (445,731) {greenery};
\node[dotb=ccon] (crur) at (442,784) {}; \node[txtb,lft] (crur-t) at (430,782) {rural};
\node[dotb=ccon] (curb) at (430,843) {}; \node[txtb,lft] (curb-t) at (418,842) {urban};
\node[dotb=ccon] (cact) at (425,912) {}; \node[txtb,lft] (cact-t) at (414,910) {1995 amended\\social services act};
\node[dotb=ccon] (cpsy) at (426,945) {}; \node[txtb,lft] (cpsy-t) at (414,946) {Psychiatric Care\\Reform 1995};
\node[dotb=ccon] (ccro) at (428,978) {}; \node[txtb,lft] (ccro-t) at (417,987) {Cross Sectoral\\National Health\\Policy 2003};
\node[dotb=ccon] (cnew) at (433,1013) {}; \node[txtb,lft] (cnew-t) at (422.5,1026) {New Mental\\Health Plan 2010};
\node[dotb=ccon] (cext) at (447,1080) {}; \node[txtb,lft] (cext-t) at (436,1083) {extreme events};
\node[dotb=ccon] (cphy) at (460,1114) {}; \node[txtb,lft] (cphy-t) at (447.5,1116) {physical health};
\node[dotb=ccon] (ccmh) at (471,1145) {}; \node[txtb,lft] (ccmh-t) at (457,1149) {community\\health};
\node[dotb=ccon] (cstr) at (485,1177) {}; \node[txtb,lft] (cstr-t) at (470,1180) {external stressors};
\refnote{cnote3}{367.5}{791}{430}{807}{Rural Mental Health}{https://bit.ly/3alonvE}
\refnote{cnote4}{342}{849}{417}{871}{The centre for urban design\\and mental health.}{https://bit.ly/2h2IIoT}
\refnote{cnote5}{253.5}{671}{354}{688}{Green Space is Good for Mental Health}{https://go.nasa.gov/3oebh6Q}
\refnote{cnote6}{49}{783}{142.5}{806}{How city living could be making you\\anxious - and how to deal with it}{https://bit.ly/3p0rjv1}
\node[dotc=ccon] (cacs) at (364,675) {}; \node[txtc,lft] (cacs-t) at (353,664) {access to green space};
\node[dotc=ccon] (cswe) at (354,701) {}; \node[txtc,lft] (cswe-t) at (344,701) {57\% of Sweden is\\covered in forest};
\node[dotc=ccon] (csho) at (345,730) {}; \node[txtc,lft] (csho-t) at (335,730.5) {shortage of\\professionals};
\node[dotc=ccon] (cmob) at (338,758) {}; \node[txtc,lft] (cmob-t) at (327.5,757.5) {mobility};
\node[dotc=ccon] (cinc) at (331,788) {}; \node[txtc,lft] (cinc-t) at (320,794) {increased risk of\\depression/anxiety/\\drug abuse/scyzophrenia};
\node[dotc=ccon] (cdec) at (325,827) {}; \node[txtc,lft] (cdec-t) at (315,843) {Decrease in\\alcohol abuse/\\dementia/suicide/\\Alzheimer};
\node[dotd=ccon] (cbet) at (195,582) {}; \node[txtd,lft] (cbet-t) at (187,582) {better mental health};
\node[dotd=ccon] (clon) at (235,598) {}; \node[txtd,lft] (clon-t) at (227,598) {longer exposure};
\node[dotd=ccon] (cdos) at (294,622) {}; \node[txtd,lft] (cdos-t) at (287,622) {dose dependent};
\node[dotd=ccon] (cpro) at (285,644) {}; \node[txtd,lft] (cpro-t) at (277,645) {protects against mood disorders, depression,\\neurotic behaviour, and stress-related issues};
\node[dotd=ccon] (clne) at (262.5,712) {}; \node[txtd,lft] (clne-t) at (255,712) {loneliness};
\node[dotd=ccon] (cred) at (257,731) {}; \node[txtd,lft] (cred-t) at (250,731) {reduced access to green space};
\node[dotd=ccon] (cenv) at (253,751) {}; \node[txtd,lft] (cenv-t) at (245,750.5) {environmental stressors (crowds, traffic jams)};
\node[dotd=ccon] (cnoi) at (249,771) {}; \node[txtd,lft] (cnoi-t) at (241,771) {noise and air pollution};
\node[dotd=ccon] (cpla) at (240,817) {}; \node[txtd,lft] (cpla-t) at (233,816.5) {better urban planning};
\node[dotd=ccon] (ccmt) at (238.5,836) {}; \node[txtd,lft] (ccmt-t) at (231,836) {community};
\node[dotc=ccon] (cmun) at (318.5,908) {}; \node[txtc,lft] (cmun-t) at (307,908) {municipalities have the same responsibility\\for mentally and physically ill citizens};
\node[dotc=ccon] (cbil) at (320,950) {}; \node[txtc,lft] (cbil-t) at (308,946.5) {1.2 billion Swedish corona over 3 years\\to facilitate implementation};
\node[dotc=ccon] (cobj) at (322,990) {}; \node[txtc,lft] (cobj-t) at (310,989) {11 objectives established};
\node[dotc=ccon] (cmil) at (333.6,1060) {}; \node[txtc,lft] (cmil-t) at (322,1061) {mild stress};
\node[dotc=ccon] (cdis) at (340,1085) {}; \node[txtc,lft] (cdis-t) at (327.5,1085) {distress};
\node[dotc=ccon] (chri) at (346,1110) {}; \node[txtc,lft] (chri-t) at (336,1111) {high-risk coping behaviour};
\node[dotc=ccon] (cjob) at (355,1137) {}; \node[txtc,lft] (cjob-t) at (343,1137) {job insecurity};
\node[dotc=ccon] (chin) at (363,1161) {}; \node[txtc,lft] (chin-t) at (352,1161) {housing insecurity};
\node[dotd=ccon] (cdru) at (264.6,1134) {}; \node[txtd,lft] (cdru-t) at (257,1134) {drug and alcohol abuse};
\node[dotc=ccon] (cnop) at (391,1224) {}; \node[txtc,lft] (cnop-t) at (378,1224) {Noise Pollution};
\node[dotc=ccon] (clig) at (405,1251) {}; \node[txtc,lft] (clig-t) at (395,1251) {Light Pollution:\\light-dark cycles};
\node[dotd=ccon] (cind) at (330,1290) {}; \node[txtd,lft] (cind-t) at (322.5,1290) {indoor artificial\\light at night};
\node[dotd=ccon] (cout) at (342.5,1313) {}; \node[txtd,lft] (cout-t) at (334,1316.5) {outdoor\\artificial light};
\node[dotd=ccon] (cslp) at (287,1343) {}; \node[txtd,lft] (cslp-t) at (281,1345) {sleep\\pattern};
\node[dotd=ccon] (cchr) at (301,1366) {}; \node[txtd,mid] (cchr-t) at (301,1380) {chronic\\disease};
\node[dotd=ccon] (cmea) at (240,1347) {}; \node[txtd,lft] (cmea-t) at (232.5,1348) {mean sleep pattern};
\node[dotd=ccon] (cday) at (250,1365) {}; \node[txtd,lft] (cday-t) at (243,1366) {day to day variability};
\node[dotd=ccon] (ccan) at (266,1390) {}; \node[txtd,lft] (ccan-t) at (258,1391) {cancer};
\node[dotd=ccon] (cobe) at (278,1408) {}; \node[txtd,lft] (cobe-t) at (270,1409) {obesity};

% domain to drivers
\coordinate (pillstart) at (1192,490);
\coordinate (pillend) at (1240,383);
\coordinate (stripestart) at (1033,838);
\coordinate (stripeend) at (1352,124);
\node[txtb,mid,rotate=65.7,text=black] (domain) at (1195,477) {Domain};
\node[txtb,mid,rotate=65.7,text=black] (drivers) at (1234.6,395) {Drivers};
\draw[-stealth,line width=0.3pt] (domain) -- (drivers);

% core references
\node[fill=black!7,rounded corners=4pt,minimum width=241.8pt,minimum height=96pt,inner sep=0pt] (corepanel) at (266.8,1720) {};
\node[txtc,rgt,text=black!85,font=\fontsize{5}{5}\selectfont] (coretitle) at (34.5,1638.7) {CORE REFERENCES};
\node[anchor=north west,inner sep=0pt,align=left,text=black!70,font=\fontsize{4.05}{4.15}\selectfont] (corelist) at (34.5,1652.5) {%
\textbf{1.} Foresight Mental Capital and Wellbeing Project, Mental Capital and Wellbeing: Making the most of ourselves in the 21st century, 2008.\\[1.35pt]
\textbf{2.} Steven E. Hyman, The genetics of mental illness: implications for practice, Bulletin of the World Health Organization, 2000.\\[1.35pt]
\textbf{3.} K.S. Kendler et al., A Swedish National Twin Study of Lifetime Major Depression, The American Journal of Psychiatry, 2006.\\[1.35pt]
\textbf{4.} T.E. Chang et al., Race/ethnicity and other social determinants of psychological well-being and functioning in mental health clinics, Journal of\\
\hspace*{5.5pt}health care for the poor and underserved, 2014\\[1.35pt]
\textbf{5.} T.J McGuire, J. Miranda, New Evidence Regarding Racial And Ethnic Disparities In Mental Health: Policy Implications, Health Affairs, 2008.\\[1.35pt]
\textbf{6.} Rajgopal T.,  Mental well-being at the workplace,  Indian journal of occupational and environmental medicine, 2010.\\[1.35pt]
\textbf{7.} Centers for Disease Control and Prevention et al., Attitudes Toward Mental Illness: Results from the Behavioral Risk Factor Surveillance System,\\
\hspace*{5.5pt}Centers for Disease Control and Prevention; 2012.\\[1.35pt]
\textbf{8.} Van Rheenen T., People diagnosed with the same mental illness can be quite different, and research must address this, The Conversation, 2017.\\[1.35pt]
\textbf{9.} Buchanan C., Hughes J.L., Storm and Stress, Encyclopedia of Adolescence, 2011.\\[1.35pt]
\textbf{10.} Singh A.,  Daniel L., Baker E., Bentley R., Housing Disadvantage and Poor Mental Health: A Systematic Review, American Journal of Preventive\\
\hspace*{5.5pt}Medicine, Volume 57, Issue 2, 2019.\\[1.35pt]
\textbf{11.} Peen et al., The current status of urban-rural differences in psychiatric disorders, Acta Psychiatrica Scandiavia, 2010\\[1.35pt]
\textbf{12.} Ursano et al., Climate Change and Mental Health Connections, The American Psychiatric Association, 2017};

\begin{pgfonlayer}{background}
% stripe from the hub outwards and the pill over it
\foreach \t/\c in {0/8,0.125/11,0.25/14,0.375/17,0.5/20,0.625/23,0.75/26,0.875/29}
  \draw[line width=4pt,dash pattern=on 0.8pt off 0.8pt,draw=black!\c]
    ($(stripestart)!\t!(stripeend)$) -- ($(stripestart)!\t+0.125!(stripeend)$);
\draw[line width=12pt,line cap=round,draw=black!14] (pillstart) -- (pillend);

% spokes
\foreach \a/\b/\c in {hub/bio/cbio,bio/beth/cbio,hub/gen/cgen,gen/genjoin/cgen,hub/soc/csoc,soc/socjoin/csoc,
  hub/con/ccon,con/conjoin/ccon,hub/fac/cfac,fac/rgen/cfac,hub/hou/chou,hou/hnei/chou,hub/ind/cind,ind/indjoin/cind}
  \draw[spoke=\c] (\a) -- (\b);

% bands
\draw[banda=cbio] plot[smooth] coordinates {(bsex) (beth) (bage)};
\draw[bandb=cbio] (badu) -- (bado);
\draw[bandc=cbio] plot[smooth] coordinates {(bri1) (bpre) (bmen) (bpub)};
\draw[bandc=cbio] plot[smooth] coordinates {(bsui) (brisk) (bang) (banx) (bdep)};
\draw[bandb=cgen] plot[smooth] coordinates {(gdow) (gadh) (gmaj) (gbip) (gsch)};
\draw[banda=cgen] (glin) -- (gcul);
\draw[banda=csoc] plot[smooth] coordinates {(shea) (sedu) (semp) (smob)};
\draw[bandb=csoc] (scar) -- (ssys);
\draw[bandb=csoc] (suem) -- (swrk);
\draw[bandb=csoc] (scom) -- (sacc);
\draw[bandc=csoc] plot[smooth] coordinates {(sura) (ssup) (sded)};
\draw[bandc=csoc] plot[smooth] coordinates {(sman) (sjob) (swlo)};
\draw[bandd=csoc] (spsy) -- (sfin);
\draw[bandd=csoc] (shou) -- (sfam);
\draw[banda=cfac,line width=7.5pt] plot[smooth] coordinates {(rcri) (rcul) (requ) (rgen) (rmed)};
\draw[bandb=cfac] (rsub) -- (rant);
\draw[bandc=cfac] plot[smooth] coordinates {(rlar) (rhig) (rint) (rlow)};
\draw[bandc=cfac] plot[smooth] coordinates {(rdru) (rtru) (rimm)};
\draw[bandd=cfac] plot[smooth] coordinates {(rhat) (rsex) (rter)};
\draw[banda=cind] plot[smooth] coordinates {(ifin) (ilif) (inut) (isle) (iexc) (isoc) (icit)};
\draw[bandb=cind] plot[smooth] coordinates {(ipre) (itwe) (iado) (iadu)};
\draw[bandb=cind] plot[smooth] coordinates {(icow) (icmu) (ifam) (ichi) (ipar)};
\draw[bandb=cind] plot[smooth] coordinates {(imat) (inur) (ihqu)};
\draw[bandb=cind] plot[smooth] coordinates {(ipbt) (icon) (isfa)};
\draw[bandc=cind] plot[smooth] coordinates {(isab) (idie) (istr)};
\draw[bandd=cind] (idru) -- (ialc);
\draw[bandd=cind] (idys) -- (idyc);
\draw[bandc=cind] plot[smooth] coordinates {(iyea) (iepu) (iesc) (idev)};
\draw[bandc=cind] (iiso) -- (ilon);
\draw[bandc=cind] plot[smooth] coordinates {(ireg) (islp) (isun)};
\draw[bandc=cind] plot[smooth] coordinates {(ilig) (itec) (icor) (imel) (icer)};
\draw[bandc=cind] plot[smooth] coordinates {(inee) (ipee) (iinc) (iexp) (iabu) (ivio) (isep)};
\draw[banda=chou] plot[smooth] coordinates {(hacc) (hren) (hten) (hnei) (hmos) (hcon)};
\draw[bandb=chou] plot[smooth] coordinates {(hcri) (hcom) (htra) (hdep) (hsto)};
\draw[bandb=chou] (hstr) -- (hanx);
\draw[bandb=chou] (hown) -- (htyp);
\draw[bandc=chou] plot[smooth] coordinates {(hhou) (hcoo) (hmun) (hoth)};
\draw[banda=ccon] plot[smooth] coordinates {(cgeo) (cbui) (cfun) (creg) (cwea)};
\draw[bandb=ccon] plot[smooth] coordinates {(cgre) (crur) (curb)};
\draw[bandb=ccon] plot[smooth] coordinates {(cact) (cpsy) (ccro) (cnew)};
\draw[bandb=ccon] plot[smooth] coordinates {(cext) (cphy) (ccmh) (cstr)};
\draw[bandc=ccon] (cacs) -- (cswe);
\draw[bandc=ccon] (csho) -- (cmob);
\draw[bandc=ccon] (cinc) -- (cdec);
\draw[bandc=ccon] (cdos) -- (cpro);
\draw[bandc=ccon] plot[smooth] coordinates {(clne) (cred) (cenv) (cnoi)};
\draw[bandc=ccon] (cpla) -- (ccmt);
\draw[bandc=ccon] plot[smooth] coordinates {(cmil) (cdis) (chri) (cjob) (chin)};
\draw[bandc=ccon] (cnop) -- (clig);
\draw[bandc=ccon] (cind) -- (cout);
\draw[bandc=ccon] (cslp) -- (cchr);
\draw[bandc=ccon] (cmea) -- (cday);
\draw[bandc=ccon] (ccan) -- (cobe);

% rings
\foreach \r in {234,426,575,681,766,829,872}
  \draw[ringline] (hub.center) circle ({\r*0.5pt});

% connectors
\foreach \a/\b in {bsex/bhor,bhor/bri1,bri1/btopjoin,bage/bado,bado/bpub,badu/bmen}
  \draw[conn=cbio] (\a) -- (\b);
\draw[conn=cgen] (gmaj) -- (genjoin);
\foreach \a/\b in {shea/ssys,scar/squa,semp/suem,suem/sded,swrk/sman,smob/scom,ssup/spsyjoin,swlo/shou,shou/sove}
  \draw[conn=csoc] (\a) -- (\b);
\foreach \a/\b in {rcri/rvio,rvio/rsex,rcul/rsoc,rsoc/rtru,rgen/rant,rimm/rasy}
  \draw[conn=cfac] (\a) -- (\b);
\foreach \a/\b in {ilif/iado,iado/icondjoin,ipre/ihqu,imat/idie,isab/ialc,itwe/ieed,ieed/ilea,ilea/idysjoin,
  ipbt/ipubjoin,iepu/iswi,iswi/iiso,icon/islp,islp/icor,isfa/iinc,ipee/irel,iexp/imed,isoc/ipar,icit/iimm}
  \draw[conn=cind] (\a) -- (\b);
\foreach \a/\b in {hacc/hmor,hmor/hdeb,hren/hpeo,hnei/hsto,hmos/hstreetjoin,hcon/hown,htyp/hringjoin,
  hhou/hex1,hcoo/hex2,hmun/hex3,hoth/hex4}
  \draw[conn=chou] (\a) -- (\b);
\foreach \a/\b in {cbui/curb,curb/cdec,cdec/cpla,crur/cmob,cgre/cswe,cacs/cpro,cdos/clon,clon/cbet,cinc/cnoi,
  cact/cmun,cpsy/cbil,ccro/cobj,creg/cnew,cwea/cext,cext/chri,chri/cdru,cstr/cnop,clig/cind,cout/cslp,cslp/cday,cchr/ccan}
  \draw[conn=ccon] (\a) -- (\b);

% dotted links of the notes
\foreach \a/\b in {bnote3/beth,rnote3/rlar,rnote3/rint,inote6/iyea,hnote5/hcri}
  \draw[notelink] (\a) -- (\b);
\draw[notelink,shorten <=20pt] (cnote6) -- (cinc);
\end{pgfonlayer}
\end{tikzpicture}
\end{document}
